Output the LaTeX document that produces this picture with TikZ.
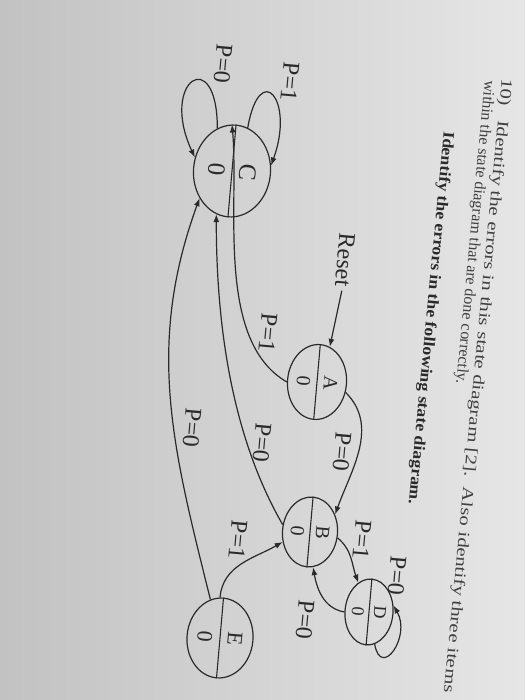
\documentclass[tikz,border=0pt]{standalone}
\usepackage{fontspec}
\setmainfont{Liberation Serif}
\usetikzlibrary{arrows.meta,shapes.geometric,calc}
\definecolor{ink}{HTML}{2A2A2A}
\definecolor{headink}{HTML}{404040}
\definecolor{paperL}{HTML}{C2C2C2}
\definecolor{paperR}{HTML}{E6E6E6}
\begin{document}
\begin{tikzpicture}[x=1pt,y=1pt,
  state/.style={ellipse, draw=ink, line width=1.2pt, rotate=-95, inner sep=0pt},
  divider/.style={draw=ink, line width=1.1pt},
  lbl/.style={rotate=-95, text=ink, font=\fontsize{24}{24}\selectfont, inner sep=0pt},
  sname/.style={rotate=-95, text=ink, inner sep=0pt},
  head/.style={rotate=-95.4, anchor=base west, inner sep=0pt},
  arr/.style={draw=ink, line width=1.2pt, -{Latex[length=8pt,width=6pt]}},
]
\useasboundingbox (0,0) rectangle (525,700);
\shade[left color=paperL, right color=paperR] (0,0) rectangle (525,700);

% header text
\node[head, xscale=1.3, text=headink, font=\fontsize{16}{16}\selectfont] (h1) at (502,622)
  {10)\hspace{11pt}Identify the errors in this state diagram [2].\hspace{8pt}Also identify three items};
\node[head, xscale=1.0, text=headink, font=\fontsize{16}{16}\selectfont] (h2) at (485,620)
  {within the state diagram that are done correctly.};
\node[head, xscale=1.11, text=ink, font=\bfseries\fontsize{16}{16}\selectfont] (h3) at (444,569)
  {Identify the errors in the following state diagram.};

% states
\node[state, minimum width=92pt, minimum height=77pt] (C) at (232,529) {};
\node[state, minimum width=75pt, minimum height=59pt] (A) at (317,318) {};
\node[state, minimum width=70pt, minimum height=55pt] (B) at (310,168) {};
\node[state, minimum width=66pt, minimum height=48pt] (D) at (369,88) {};
\node[state, minimum width=80pt, minimum height=66pt] (E) at (220,62) {};

\foreach \s in {C,A,B,D,E} {\draw[divider] (\s.west) -- (\s.east);}

\node[sname, font=\fontsize{25}{25}\selectfont] (Cn) at ($(C.center)!0.4!(C.north)$) {C};
\node[sname, font=\fontsize{25}{25}\selectfont] (Co) at ($(C.center)!0.4!(C.south)$) {0};
\node[sname, font=\fontsize{20}{20}\selectfont] (An) at ($(A.center)!0.45!(A.north)$) {A};
\node[sname, font=\fontsize{20}{20}\selectfont] (Ao) at ($(A.center)!0.45!(A.south)$) {0};
\node[sname, font=\fontsize{20}{20}\selectfont] (Bn) at ($(B.center)!0.45!(B.north)$) {B};
\node[sname, font=\fontsize{20}{20}\selectfont] (Bo) at ($(B.center)!0.45!(B.south)$) {0};
\node[sname, font=\fontsize{18}{18}\selectfont] (Dn) at ($(D.center)!0.45!(D.north)$) {D};
\node[sname, font=\fontsize{18}{18}\selectfont] (Do) at ($(D.center)!0.45!(D.south)$) {0};
\node[sname, font=\fontsize{22}{22}\selectfont] (En) at ($(E.center)!0.45!(E.north)$) {E};
\node[sname, font=\fontsize{22}{22}\selectfont] (Eo) at ($(E.center)!0.45!(E.south)$) {0};

% labels
\node[lbl] (reset) at (345,440) {Reset};
\node[lbl] (lc0) at (223,636) {P=0};
\node[lbl] (lc1) at (290,618) {P=1};
\node[lbl] (lac) at (268,367) {P=1};
\node[lbl] (lab) at (342,248) {P=0};
\node[lbl] (lbc) at (262,257) {P=0};
\node[lbl] (lec) at (192,272) {P=0};
\node[lbl] (leb) at (238,160) {P=1};
\node[lbl] (lbd) at (362,160) {P=1};
\node[lbl] (ldb) at (305,80) {P=0};
\node[lbl] (ldd) at (397,124) {P=0};

% connectors
\draw[arr, shorten <=4pt] (reset.east) -- (A.165);
\draw[arr] (A.75) to[out=-45,in=70] (B.130);
\draw[arr] (A.275) to[out=150,in=-85,looseness=0.8] (C.185);
\draw[arr] (B.260) to[out=120,in=-90,looseness=0.85] (C.345);
\draw[arr] (E.199) to[out=104,in=-110] (C.315);
\draw[arr] (E.185) to[out=85,in=210] (B.295);
\draw[arr] (B.83) to[out=-40,in=110] (D.205);
\draw[arr] (D.275) to[out=170,in=-80] (B.10);
\draw[arr] (D.15) to[out=-80,in=-60,distance=36pt] (D.110);
\draw[arr] (C.204) to[out=90,in=115,distance=85pt] (C.255);
\draw[arr] (C.165) to[out=80,in=70,distance=70pt] (C.103);
\end{tikzpicture}
\end{document}
